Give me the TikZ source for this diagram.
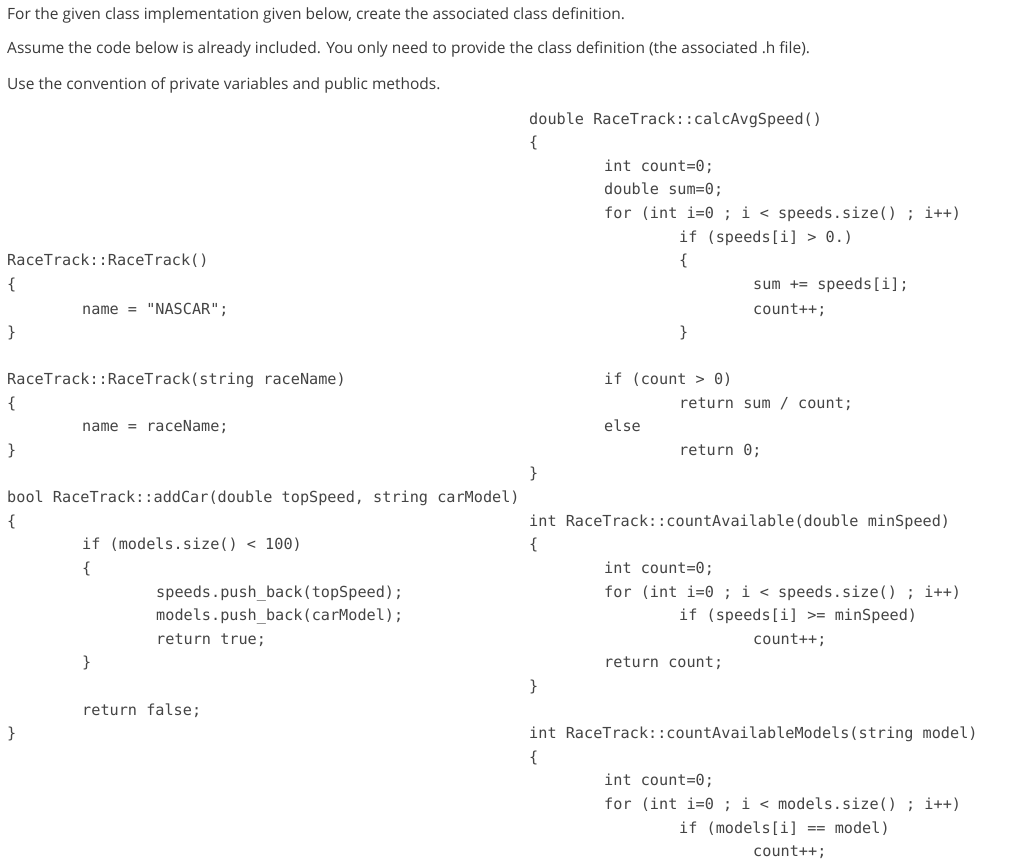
\documentclass[tikz,border=0pt]{standalone}
\usepackage{fontspec}
\setmainfont{Open Sans}
\setmonofont{DejaVu Sans Mono}
\definecolor{prose}{HTML}{3A3A3A}
\definecolor{code}{HTML}{444444}
\begin{document}
\begin{tikzpicture}[x=1pt,y=-1pt,
  txt/.style={anchor=base west,inner sep=0pt,text=prose,font=\fontsize{15.5}{18}\selectfont},
  cd/.style={anchor=base west,inner sep=0pt,text=code,font=\fontsize{15.2}{18}\ttfamily}]
\useasboundingbox[fill=white] (0,0) rectangle (1024,866);
\node[txt] (p1) at (7,20) {For the given class implementation given below, create the associated class definition.};
\node[txt] (p2) at (7,54) {Assume the code below is already included. You only need to provide the class definition (the associated .h file).};
\node[txt] (p3) at (7,90) {Use the convention of private variables and public methods.};
% right column
\node[cd] (r1) at (529,125) {double RaceTrack::calcAvgSpeed()};
\node[cd] (r2) at (529,148) {\{};
\node[cd] (r3) at (604,172) {int count=0;};
\node[cd] (r4) at (604,195) {double sum=0;};
\node[cd] (r5) at (604,219) {for (int i=0 ; i < speeds.size() ; i++)};
\node[cd] (r6) at (679,243) {if (speeds[i] > 0.)};
\node[cd] (r7) at (679,266) {\{};
\node[cd] (r8) at (753,290) {sum += speeds[i];};
\node[cd] (r9) at (753,314) {count++;};
\node[cd] (r10) at (679,337) {\}};
\node[cd] (r11) at (604,384) {if (count > 0)};
\node[cd] (r12) at (679,408) {return sum / count;};
\node[cd] (r13) at (604,431) {else};
\node[cd] (r14) at (679,455) {return 0;};
\node[cd] (r15) at (529,478) {\}};
\node[cd] (r16) at (529,526) {int RaceTrack::countAvailable(double minSpeed)};
\node[cd] (r17) at (529,549) {\{};
\node[cd] (r18) at (604,573) {int count=0;};
\node[cd] (r19) at (604,597) {for (int i=0 ; i < speeds.size() ; i++)};
\node[cd] (r20) at (679,620) {if (speeds[i] >= minSpeed)};
\node[cd] (r21) at (753,644) {count++;};
\node[cd] (r22) at (604,667) {return count;};
\node[cd] (r23) at (529,691) {\}};
\node[cd] (r24) at (529,738) {int RaceTrack::countAvailableModels(string model)};
\node[cd] (r25) at (529,762) {\{};
\node[cd] (r26) at (604,785) {int count=0;};
\node[cd] (r27) at (604,809) {for (int i=0 ; i < models.size() ; i++)};
\node[cd] (r28) at (679,833) {if (models[i] == model)};
\node[cd] (r29) at (753,856) {count++;};
% left column
\node[cd] (l1) at (7,266) {RaceTrack::RaceTrack()};
\node[cd] (l2) at (7,290) {\{};
\node[cd] (l3) at (82,314) {name = "NASCAR";};
\node[cd] (l4) at (7,337) {\}};
\node[cd] (l5) at (7,384) {RaceTrack::RaceTrack(string raceName)};
\node[cd] (l6) at (7,408) {\{};
\node[cd] (l7) at (82,431) {name = raceName;};
\node[cd] (l8) at (7,455) {\}};
\node[cd] (l9) at (7,502) {bool RaceTrack::addCar(double topSpeed, string carModel)};
\node[cd] (l10) at (7,526) {\{};
\node[cd] (l11) at (82,549) {if (models.size() < 100)};
\node[cd] (l12) at (82,573) {\{};
\node[cd] (l13) at (156,597) {speeds.push\_back(topSpeed);};
\node[cd] (l14) at (156,620) {models.push\_back(carModel);};
\node[cd] (l15) at (156,644) {return true;};
\node[cd] (l16) at (82,667) {\}};
\node[cd] (l17) at (82,715) {return false;};
\node[cd] (l18) at (7,738) {\}};
\end{tikzpicture}
\end{document}
